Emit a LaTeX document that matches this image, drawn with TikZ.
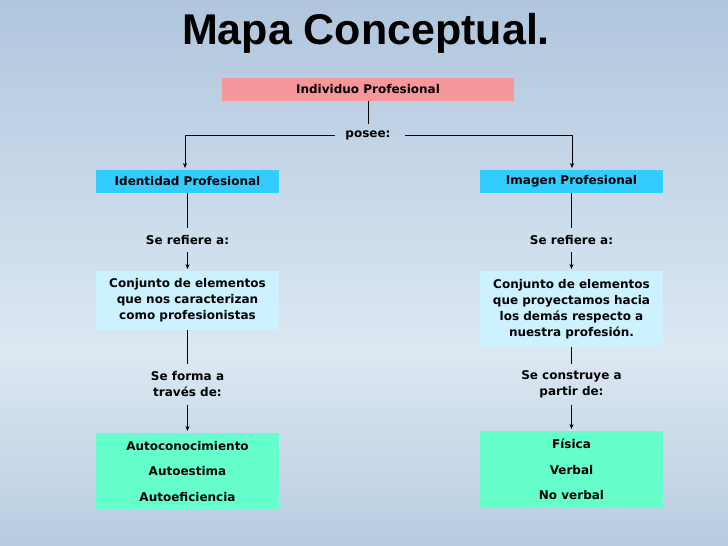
\documentclass[tikz,border=0pt]{standalone}
\usepackage{fontspec}
\setmainfont{DejaVu Sans}
\newfontfamily\titlefont{Liberation Sans}
\usetikzlibrary{arrows.meta}
\definecolor{bgtop}{HTML}{B0C6DE}
\definecolor{bgmid}{HTML}{DCE8F2}
\definecolor{bgbot}{HTML}{B8CCE0}
\definecolor{pinkbox}{HTML}{F7979B}
\definecolor{cyanbox}{HTML}{33CCFF}
\definecolor{palebox}{HTML}{CCF2FF}
\definecolor{greenbox}{HTML}{66FFCC}
\begin{document}
\begin{tikzpicture}[x=1pt,y=-1pt,
  txt/.style={font=\fontsize{12}{16}\selectfont\bfseries,align=center},
  ln/.style={line width=0.6pt},
  arr/.style={ln,-{Stealth[length=5pt,width=4pt]}}]
\useasboundingbox (0,0) rectangle (728,546);
\shade[top color=bgtop,bottom color=bgmid] (0,0) rectangle (728,350);
\shade[top color=bgmid,bottom color=bgbot] (0,350) rectangle (728,546);
\node[font=\titlefont\fontsize{43}{45}\selectfont\bfseries] (title) at (366,33) {Mapa Conceptual.};
% boxes
\fill[pinkbox] (222,78) rectangle (514,101);
\node[txt] (ind) at (368,89.5) {Individuo Profesional};
\fill[cyanbox] (96,170) rectangle (279,193);
\node[txt] (idp) at (187.5,181.5) {Identidad Profesional};
\fill[cyanbox] (480,170) rectangle (663,193);
\node[txt] (imp) at (571.5,181.5) {Imagen Profesional};
\fill[palebox] (96,271) rectangle (279,330);
\node[txt] (c1) at (187.5,300.5) {Conjunto de elementos\\que nos caracterizan\\como profesionistas};
\fill[palebox] (480,271) rectangle (663,347);
\node[txt] (c2) at (571.5,309) {Conjunto de elementos\\que proyectamos hacia\\los demás respecto a\\nuestra profesión.};
\fill[greenbox] (96,433) rectangle (279,510);
\node[txt,font=\fontsize{12}{25.5}\selectfont\bfseries] (g1) at (187.5,471.5) {Autoconocimiento\\Autoestima\\Autoeficiencia};
\fill[greenbox] (480,431) rectangle (663,508);
\node[txt,font=\fontsize{12}{25.5}\selectfont\bfseries] (g2) at (571.5,469.5) {Física\\Verbal\\No verbal};
% labels
\node[txt] (posee) at (368,135) {posee:};
\node[txt] (sr1) at (187.5,240) {Se refiere a:};
\node[txt] (sr2) at (571.5,240) {Se refiere a:};
\node[txt] (sf) at (187.5,384) {Se forma a\\través de:};
\node[txt] (sc) at (571.5,384) {Se construye a\\partir de:};
\coordinate (pl) at (335,135); \coordinate (pr) at (405,135);
\coordinate (l1) at (185,135); \coordinate (r1) at (572,135);
% connectors
\draw[ln] (368,101) -- (368,124);
\draw[ln] (pl) -- (l1);
\draw[arr] (l1) -- (185,168);
\draw[ln] (pr) -- (r1);
\draw[arr] (r1) -- (572,168);
\draw[ln] (187.5,193) -- (187.5,228);
\draw[arr] (187.5,252) -- (187.5,269);
\draw[ln] (571.5,193) -- (571.5,228);
\draw[arr] (571.5,252) -- (571.5,269);
\draw[ln] (187.5,330) -- (187.5,364);
\draw[arr] (187.5,405) -- (187.5,431);
\draw[ln] (571.5,347) -- (571.5,364);
\draw[arr] (571.5,405) -- (571.5,429);
\end{tikzpicture}
\end{document}
